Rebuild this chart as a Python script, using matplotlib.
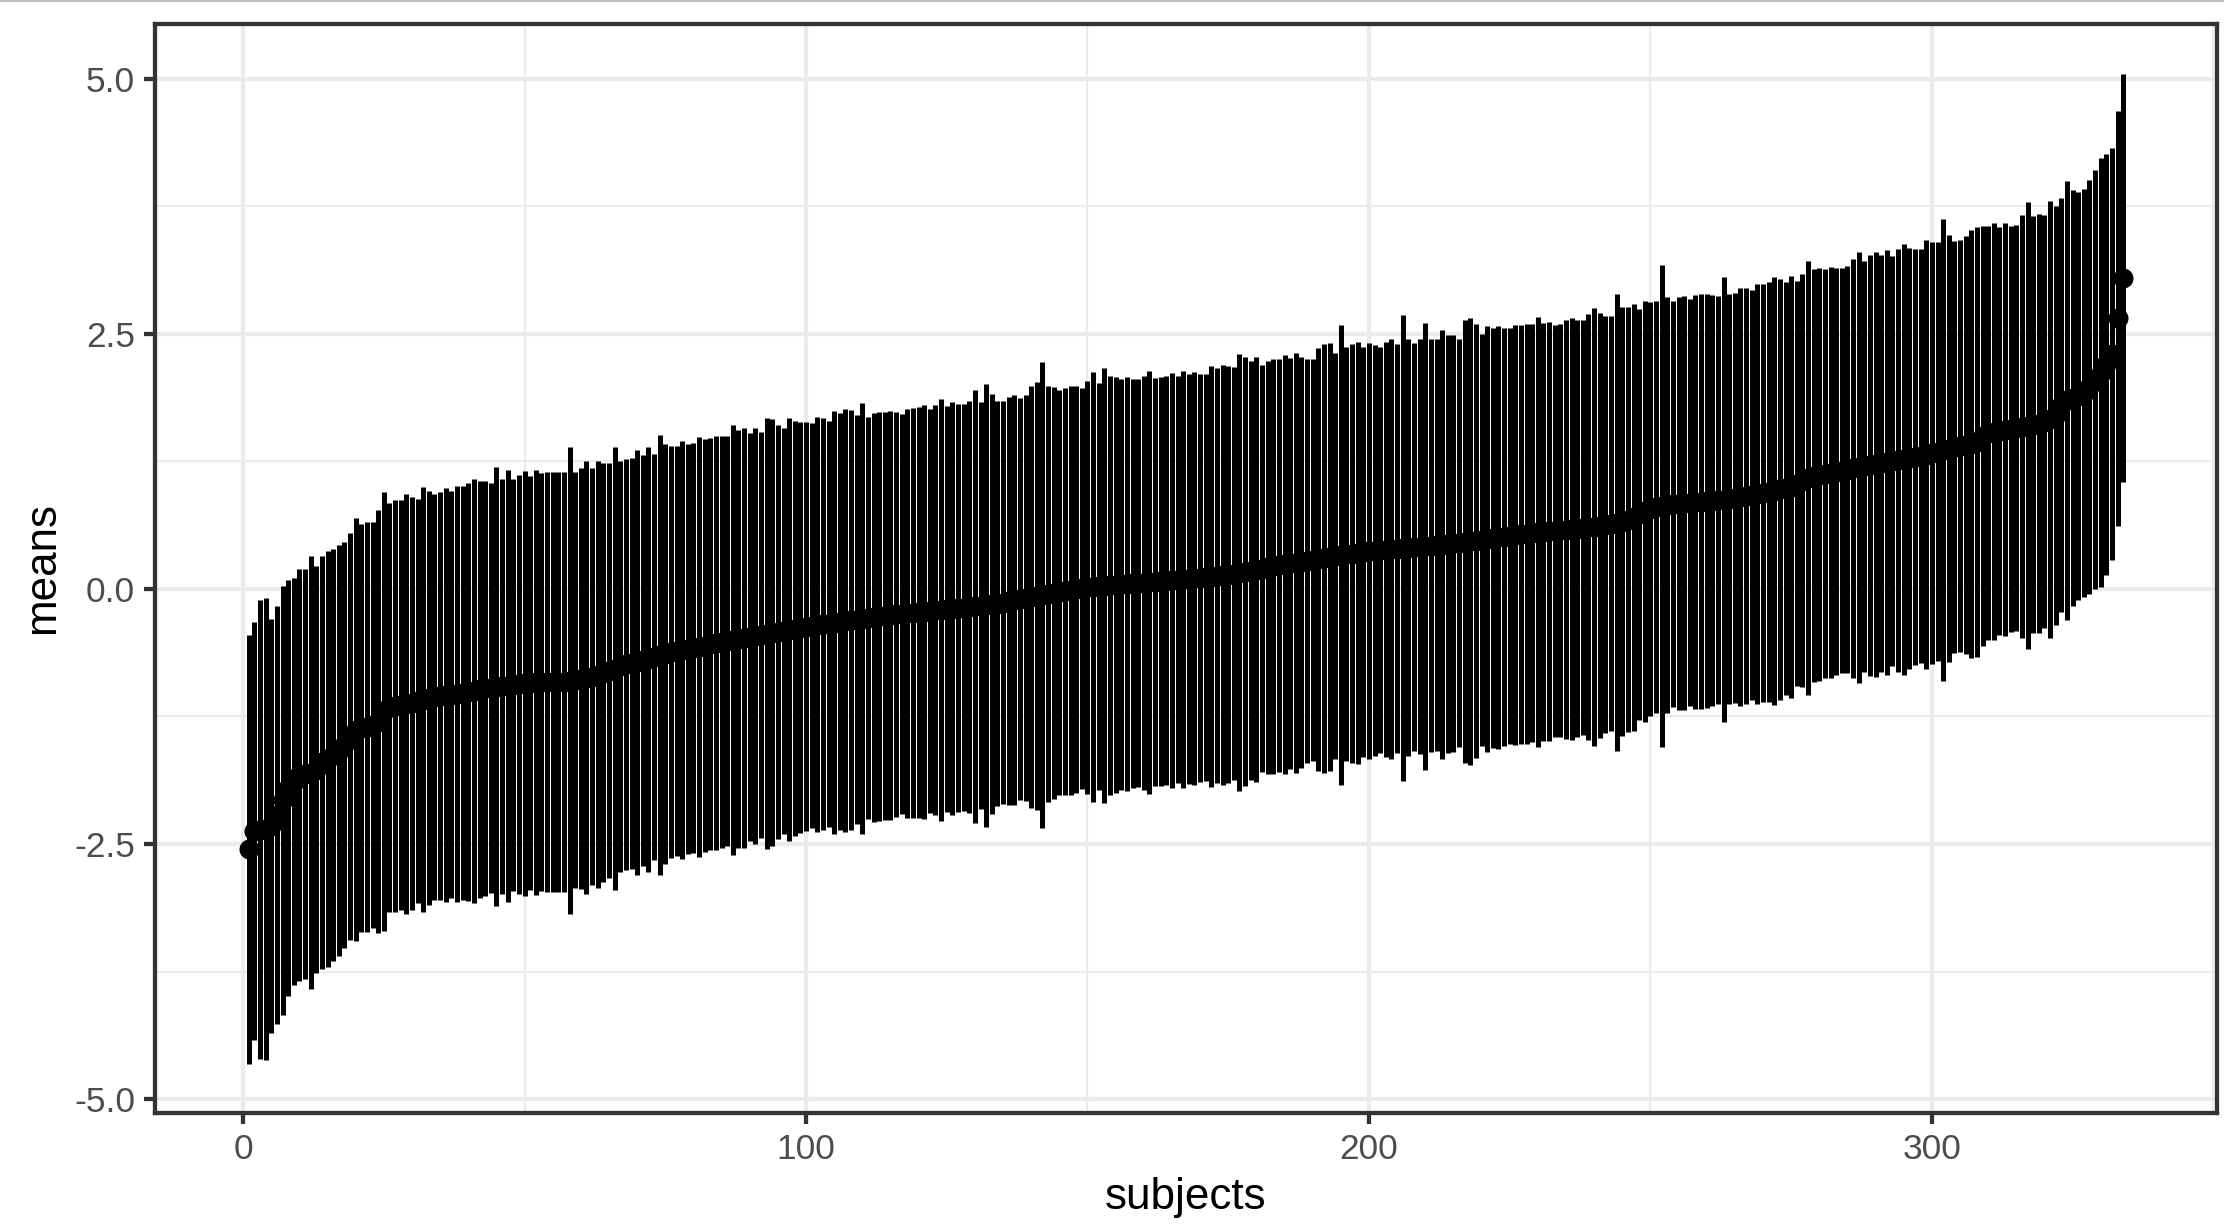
import matplotlib
import numpy as np

matplotlib.use("Agg")
import matplotlib.pyplot as plt
from matplotlib.lines import Line2D
from matplotlib.ticker import FormatStrFormatter, MultipleLocator

# ------------------------------------
# Data (one value per subject, sorted by mean)
# ------------------------------------
means = [
    -2.55, -2.37, -2.36, -2.35, -2.32, -2.215, -2.07, -1.95, -1.89, -1.82,
    -1.81, -1.80, -1.77, -1.70, -1.665, -1.63, -1.585, -1.53, -1.445, -1.38,
    -1.36, -1.35, -1.33, -1.30, -1.20, -1.16, -1.15, -1.14, -1.13, -1.12,
    -1.10, -1.085, -1.07, -1.06, -1.05, -1.04, -1.035, -1.03, -1.02, -1.01,
    -1.00, -0.985, -0.975, -0.97, -0.96, -0.955, -0.95, -0.94, -0.935, -0.925,
    -0.92, -0.915, -0.91, -0.91, -0.91, -0.91, -0.91, -0.90, -0.89, -0.88,
    -0.87, -0.86, -0.84, -0.82, -0.80, -0.78, -0.76, -0.74, -0.73, -0.72,
    -0.70, -0.69, -0.67, -0.65, -0.64, -0.62, -0.61, -0.60, -0.59, -0.58,
    -0.57, -0.555, -0.54, -0.53, -0.52, -0.51, -0.50, -0.49, -0.48, -0.47,
    -0.46, -0.45, -0.44, -0.43, -0.42, -0.41, -0.40, -0.39, -0.38, -0.37,
    -0.36, -0.35, -0.345, -0.34, -0.33, -0.32, -0.31, -0.305, -0.30, -0.29,
    -0.285, -0.28, -0.27, -0.265, -0.26, -0.25, -0.245, -0.24, -0.235, -0.23,
    -0.225, -0.22, -0.21, -0.205, -0.20, -0.195, -0.19, -0.185, -0.18, -0.17,
    -0.165, -0.16, -0.15, -0.145, -0.135, -0.12, -0.11, -0.10, -0.09, -0.08,
    -0.07, -0.06, -0.05, -0.04, -0.035, -0.025, -0.015, -0.005, 0.005, 0.015,
    0.02, 0.025, 0.03, 0.035, 0.04, 0.045, 0.05, 0.055, 0.058, 0.06,
    0.065, 0.07, 0.075, 0.08, 0.085, 0.09, 0.095, 0.10, 0.105, 0.11,
    0.115, 0.12, 0.13, 0.135, 0.14, 0.15, 0.16, 0.17, 0.18, 0.19,
    0.20, 0.21, 0.22, 0.23, 0.24, 0.25, 0.255, 0.26, 0.27, 0.28,
    0.29, 0.30, 0.31, 0.32, 0.33, 0.34, 0.345, 0.35, 0.36, 0.37,
    0.375, 0.38, 0.385, 0.39, 0.395, 0.40, 0.405, 0.41, 0.415, 0.42,
    0.425, 0.43, 0.435, 0.44, 0.445, 0.45, 0.46, 0.465, 0.47, 0.48,
    0.49, 0.50, 0.505, 0.51, 0.52, 0.53, 0.535, 0.54, 0.55, 0.555,
    0.56, 0.565, 0.57, 0.575, 0.58, 0.585, 0.59, 0.60, 0.605, 0.61,
    0.62, 0.63, 0.64, 0.65, 0.66, 0.68, 0.70, 0.73, 0.76, 0.78,
    0.80, 0.81, 0.82, 0.83, 0.835, 0.84, 0.845, 0.85, 0.855, 0.86,
    0.865, 0.87, 0.875, 0.88, 0.89, 0.90, 0.91, 0.92, 0.93, 0.94,
    0.95, 0.96, 0.975, 0.985, 1.00, 1.03, 1.06, 1.09, 1.11, 1.12,
    1.13, 1.14, 1.15, 1.16, 1.17, 1.18, 1.19, 1.20, 1.21, 1.22,
    1.23, 1.24, 1.25, 1.26, 1.27, 1.28, 1.29, 1.30, 1.315, 1.33,
    1.345, 1.36, 1.375, 1.39, 1.40, 1.41, 1.42, 1.44, 1.50, 1.53,
    1.54, 1.55, 1.56, 1.57, 1.58, 1.59, 1.60, 1.61, 1.62, 1.64,
    1.66, 1.70, 1.80, 1.85, 1.87, 1.89, 1.92, 1.98, 2.05, 2.12,
    2.20, 2.30, 2.65, 3.05,
]

# Top end of each subject's interval (the interval is symmetric about the mean).
upper = [
    -0.45, -0.32, -0.11, -0.085, -0.29, -0.17, 0.03, 0.09, 0.105, 0.20,
    0.20, 0.32, 0.22, 0.32, 0.37, 0.39, 0.43, 0.455, 0.55, 0.69,
    0.64, 0.66, 0.66, 0.77, 0.95, 0.845, 0.87, 0.87, 0.93, 0.905,
    0.88, 1.00, 0.96, 0.93, 0.95, 0.99, 0.96, 1.01, 1.01, 1.04,
    1.08, 1.06, 1.06, 1.04, 1.19, 1.08, 1.17, 1.08, 1.12, 1.16,
    1.11, 1.17, 1.14, 1.145, 1.15, 1.15, 1.15, 1.39, 1.15, 1.18,
    1.25, 1.18, 1.25, 1.23, 1.23, 1.39, 1.25, 1.275, 1.28, 1.36,
    1.31, 1.39, 1.32, 1.505, 1.42, 1.40, 1.40, 1.445, 1.42, 1.43,
    1.49, 1.47, 1.475, 1.50, 1.50, 1.50, 1.61, 1.56, 1.575, 1.53,
    1.58, 1.54, 1.67, 1.66, 1.61, 1.58, 1.67, 1.645, 1.635, 1.635,
    1.625, 1.685, 1.67, 1.65, 1.74, 1.72, 1.76, 1.75, 1.70, 1.82,
    1.685, 1.72, 1.73, 1.73, 1.74, 1.73, 1.715, 1.76, 1.77, 1.78,
    1.80, 1.76, 1.80, 1.865, 1.79, 1.83, 1.81, 1.81, 1.84, 1.95,
    1.83, 2.01, 1.91, 1.84, 1.84, 1.88, 1.90, 1.87, 1.90, 1.99,
    2.03, 2.225, 1.99, 1.98, 1.95, 1.97, 1.99, 1.99, 1.97, 2.04,
    2.13, 2.02, 2.16, 2.085, 2.08, 2.06, 2.08, 2.06, 2.06, 2.09,
    2.14, 2.07, 2.08, 2.085, 2.12, 2.085, 2.14, 2.11, 2.13, 2.11,
    2.11, 2.18, 2.16, 2.19, 2.18, 2.17, 2.30, 2.27, 2.23, 2.27,
    2.19, 2.23, 2.25, 2.25, 2.29, 2.26, 2.31, 2.27, 2.25, 2.25,
    2.36, 2.40, 2.405, 2.31, 2.585, 2.37, 2.40, 2.42, 2.37, 2.405,
    2.39, 2.37, 2.42, 2.445, 2.40, 2.685, 2.45, 2.405, 2.45, 2.61,
    2.45, 2.45, 2.54, 2.485, 2.49, 2.45, 2.63, 2.655, 2.60, 2.50,
    2.58, 2.56, 2.58, 2.56, 2.555, 2.59, 2.585, 2.60, 2.60, 2.66,
    2.61, 2.62, 2.59, 2.60, 2.63, 2.65, 2.63, 2.63, 2.695, 2.755,
    2.70, 2.67, 2.67, 2.89, 2.76, 2.76, 2.79, 2.745, 2.82, 2.81,
    2.82, 3.17, 2.86, 2.82, 2.86, 2.87, 2.84, 2.88, 2.89, 2.885,
    2.875, 2.87, 3.055, 2.885, 2.90, 2.945, 2.945, 2.93, 2.985, 2.985,
    3.005, 3.06, 3.04, 3.01, 3.07, 3.015, 3.085, 3.215, 3.13, 3.14,
    3.13, 3.15, 3.14, 3.14, 3.16, 3.23, 3.30, 3.21, 3.27, 3.30,
    3.27, 3.32, 3.26, 3.33, 3.38, 3.34, 3.33, 3.33, 3.415, 3.40,
    3.40, 3.62, 3.47, 3.41, 3.42, 3.455, 3.52, 3.545, 3.56, 3.56,
    3.585, 3.55, 3.585, 3.56, 3.57, 3.66, 3.79, 3.65, 3.67, 3.66,
    3.80, 3.75, 3.83, 4.00, 3.91, 3.89, 3.92, 4.01, 4.10, 4.22,
    4.26, 4.32, 4.68, 5.05,
]

# ------------------------------------
# Style (ggplot2 theme_bw look)
# ------------------------------------
DPI = 288
GRID = "#EBEBEB"
DARK = "#333333"
TICK_TEXT = "#4D4D4D"

plt.rcParams["font.family"] = ["Liberation Sans", "DejaVu Sans"]
plt.rcParams["axes.unicode_minus"] = False

mean_arr = np.asarray(means, dtype=float)
upper_arr = np.asarray(upper, dtype=float)
half_width = upper_arr - mean_arr
lower_arr = mean_arr - half_width
subjects = np.arange(1, len(mean_arr) + 1)

fig = plt.figure(figsize=(2224 / DPI, 1230 / DPI), dpi=DPI)
ax = fig.add_axes([155 / 2224, 1 - 1113 / 1230,
                   (2217 - 155) / 2224, (1113 - 24) / 1230])

ax.vlines(subjects, lower_arr, upper_arr, colors="black", linewidth=1.25,
          capstyle="butt", zorder=2)
ax.plot(subjects, mean_arr, "o", color="black", ms=5.0, mew=0, zorder=3)

ax.margins(x=0.05, y=0.05)

ax.xaxis.set_major_locator(MultipleLocator(100))
ax.xaxis.set_minor_locator(MultipleLocator(50))
ax.yaxis.set_major_locator(MultipleLocator(2.5))
ax.yaxis.set_minor_locator(MultipleLocator(1.25))
ax.yaxis.set_major_formatter(FormatStrFormatter("%.1f"))
ax.xaxis.set_major_formatter(FormatStrFormatter("%d"))

ax.set_axisbelow(True)
ax.grid(which="major", color=GRID, linewidth=1.07)
ax.grid(which="minor", color=GRID, linewidth=0.53)

for spine in ax.spines.values():
    spine.set_color(DARK)
    spine.set_linewidth(1.07)

ax.tick_params(which="major", length=2.75, width=1.07, color=DARK,
               labelcolor=TICK_TEXT, labelsize=8.8, pad=2.2)
ax.tick_params(which="minor", length=0)

ax.set_xlabel("subjects", fontsize=11, color="black", labelpad=2.75)
ax.set_ylabel("means", fontsize=11, color="black", labelpad=2.75)

# thin grey rule along the very top of the image
fig.add_artist(Line2D([0, 1], [1 - 0.6 / 1230] * 2, transform=fig.transFigure,
                      color="#B0B0B0", linewidth=0.4))

fig.savefig("out.png", dpi=DPI)
plt.close(fig)
